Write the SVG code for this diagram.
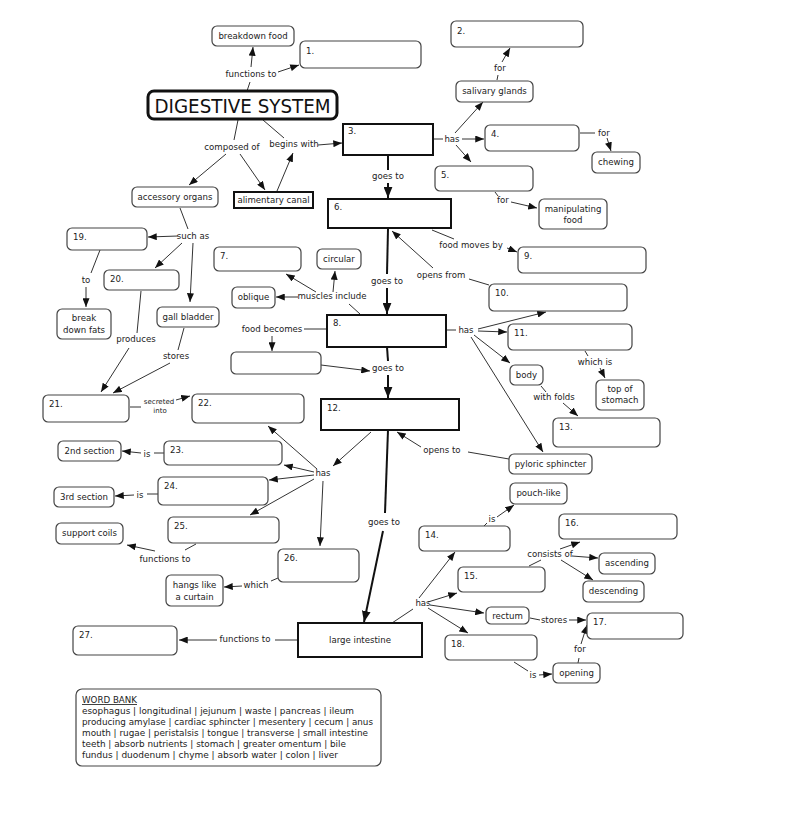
<svg xmlns="http://www.w3.org/2000/svg" width="786" height="831" viewBox="0 0 786 831">
<defs>
<marker id="ah" viewBox="0 0 10 8" refX="10" refY="4" markerWidth="9" markerHeight="7" orient="auto" markerUnits="userSpaceOnUse"><path d="M0,0 L10,4 L0,8 z" fill="#111"/></marker>
<marker id="ah2" viewBox="0 0 10 8" refX="10" refY="4" markerWidth="11" markerHeight="9" orient="auto" markerUnits="userSpaceOnUse"><path d="M0,0 L10,4 L0,8 z" fill="#111"/></marker>
</defs>
<style>
.r{fill:#fff;stroke:#444;stroke-width:1.2}
.s{fill:#fff;stroke:#111;stroke-width:2}
text{font-family:"DejaVu Sans",Verdana,sans-serif;font-size:8.6px;fill:#222}
.c{text-anchor:middle}
.sm{font-size:7px}
#connectors line{stroke:#333;stroke-width:1;fill:none}
#connectors line.k{stroke:#111;stroke-width:2}
#connectors line.a{marker-end:url(#ah)}
#connectors line.k.a{marker-end:url(#ah2)}
</style>
<rect width="786" height="831" fill="#fff"/>

<g id="connectors">
<line x1="247" y1="91" x2="250" y2="82"/>
<line class="a" x1="251" y1="67" x2="253" y2="47"/>
<line class="a" x1="278" y1="72" x2="299" y2="65"/>
<line x1="238" y1="120" x2="234" y2="140"/>
<line class="a" x1="226" y1="154" x2="189" y2="185"/>
<line class="a" x1="240" y1="154" x2="265" y2="190"/>
<line x1="263" y1="120" x2="284" y2="138"/>
<line class="a" x1="318" y1="145" x2="342" y2="143"/>
<line class="a" x1="277" y1="191" x2="293" y2="153"/>
<line x1="433" y1="139" x2="443" y2="139"/>
<line class="a" x1="455" y1="133" x2="483" y2="102"/>
<line class="a" x1="462" y1="139" x2="484" y2="139"/>
<line class="a" x1="456" y1="145" x2="471" y2="162"/>
<line x1="497" y1="80" x2="498" y2="75"/>
<line class="a" x1="502" y1="62" x2="510" y2="48"/>
<line x1="580" y1="133" x2="595" y2="133"/>
<line class="a" x1="607" y1="138" x2="611" y2="151"/>
<line x1="495" y1="192" x2="498" y2="196"/>
<line class="a" x1="511" y1="202" x2="537" y2="208"/>
<line class="k" x1="388" y1="155" x2="388" y2="170"/>
<line class="k a" x1="388" y1="183" x2="388" y2="198"/>
<line x1="432" y1="230" x2="454" y2="239"/>
<line class="a" x1="507" y1="248" x2="517" y2="252"/>
<line x1="489" y1="285" x2="469" y2="279"/>
<line class="a" x1="433" y1="268" x2="392" y2="231"/>
<line class="k" x1="388" y1="229" x2="387" y2="274"/>
<line class="k a" x1="387" y1="288" x2="387" y2="314"/>
<line x1="360" y1="314" x2="349" y2="304"/>
<line class="a" x1="333" y1="292" x2="335" y2="271"/>
<line class="a" x1="316" y1="292" x2="286" y2="274"/>
<line class="a" x1="298" y1="297" x2="276" y2="297"/>
<line x1="304" y1="329" x2="327" y2="329"/>
<line class="a" x1="272" y1="336" x2="272" y2="351"/>
<line class="k" x1="387" y1="347" x2="388" y2="361"/>
<line class="k a" x1="388" y1="375" x2="388" y2="398"/>
<line class="a" x1="321" y1="365" x2="370" y2="371"/>
<line x1="446" y1="330" x2="456" y2="330"/>
<line class="a" x1="478" y1="329" x2="546" y2="312"/>
<line class="a" x1="478" y1="331" x2="507" y2="332"/>
<line class="a" x1="474" y1="335" x2="510" y2="363"/>
<line class="a" x1="471" y1="337" x2="543" y2="452"/>
<line x1="585" y1="351" x2="588" y2="356"/>
<line class="a" x1="600" y1="368" x2="605" y2="378"/>
<line x1="541" y1="386" x2="546" y2="392"/>
<line class="a" x1="563" y1="403" x2="578" y2="416"/>
<line x1="509" y1="459" x2="468" y2="452"/>
<line class="a" x1="421" y1="447" x2="397" y2="432"/>
<line class="a" x1="371" y1="432" x2="333" y2="466"/>
<line class="a" x1="317" y1="469" x2="268" y2="426"/>
<line class="a" x1="314" y1="472" x2="284" y2="465"/>
<line class="a" x1="314" y1="475" x2="269" y2="480"/>
<line class="a" x1="314" y1="479" x2="250" y2="515"/>
<line class="a" x1="323" y1="481" x2="320" y2="546"/>
<line x1="130" y1="407" x2="141" y2="407"/>
<line class="a" x1="176" y1="400" x2="190" y2="396"/>
<line x1="164" y1="453" x2="154" y2="453"/>
<line class="a" x1="141" y1="453" x2="122" y2="451"/>
<line x1="158" y1="494" x2="147" y2="494"/>
<line class="a" x1="134" y1="495" x2="115" y2="496"/>
<line x1="196" y1="544" x2="185" y2="550"/>
<line class="a" x1="155" y1="551" x2="127" y2="545"/>
<line x1="278" y1="578" x2="271" y2="581"/>
<line class="a" x1="242" y1="586" x2="224" y2="587"/>
<line class="k" x1="388" y1="430" x2="385" y2="513"/>
<line class="k a" x1="383" y1="531" x2="364" y2="622"/>
<line x1="298" y1="640" x2="275" y2="640"/>
<line class="a" x1="217" y1="640" x2="179" y2="640"/>
<line x1="392" y1="623" x2="413" y2="609"/>
<line class="a" x1="419" y1="598" x2="455" y2="552"/>
<line class="a" x1="428" y1="602" x2="457" y2="593"/>
<line class="a" x1="430" y1="605" x2="484" y2="613"/>
<line class="a" x1="428" y1="608" x2="468" y2="633"/>
<line x1="484" y1="526" x2="487" y2="523"/>
<line class="a" x1="497" y1="517" x2="514" y2="505"/>
<line x1="529" y1="566" x2="541" y2="560"/>
<line class="a" x1="560" y1="549" x2="580" y2="542"/>
<line class="a" x1="572" y1="556" x2="598" y2="558"/>
<line class="a" x1="561" y1="560" x2="593" y2="580"/>
<line x1="530" y1="618" x2="540" y2="620"/>
<line class="a" x1="569" y1="620" x2="586" y2="620"/>
<line x1="514" y1="662" x2="528" y2="671"/>
<line class="a" x1="539" y1="675" x2="552" y2="674"/>
<line x1="578" y1="663" x2="579" y2="658"/>
<line class="a" x1="581" y1="644" x2="587" y2="625"/>
<line x1="180" y1="208" x2="188" y2="229"/>
<line class="a" x1="178" y1="236" x2="148" y2="237"/>
<line class="a" x1="182" y1="243" x2="155" y2="268"/>
<line class="a" x1="193" y1="243" x2="190" y2="302"/>
<line x1="100" y1="250" x2="91" y2="273"/>
<line class="a" x1="86" y1="287" x2="86" y2="307"/>
<line x1="141" y1="291" x2="137" y2="333"/>
<line class="a" x1="129" y1="348" x2="101" y2="392"/>
<line x1="184" y1="328" x2="178" y2="350"/>
<line class="a" x1="170" y1="363" x2="113" y2="393"/>
<g id="link-labels">
<text class="c" x="251" y="77">functions to</text>
<text class="c" x="232" y="150">composed of</text>
<text class="c" x="294" y="147">begins with</text>
<text class="c" x="452" y="142">has</text>
<text class="c" x="500" y="71">for</text>
<text class="c" x="604" y="136">for</text>
<text class="c" x="503" y="203">for</text>
<text class="c" x="388" y="179">goes to</text>
<text class="c" x="471" y="248">food moves by</text>
<text class="c" x="441" y="278">opens from</text>
<text class="c" x="387" y="284">goes to</text>
<text class="c" x="332" y="299">muscles include</text>
<text class="c" x="272" y="332">food becomes</text>
<text class="c" x="388" y="371">goes to</text>
<text class="c" x="466" y="333">has</text>
<text class="c" x="595" y="365">which is</text>
<text class="c" x="554" y="400">with folds</text>
<text class="c" x="442" y="453">opens to</text>
<text class="c" x="323" y="476">has</text>
<text class="c sm" x="159" y="404">secreted</text>
<text class="c sm" x="160" y="413">into</text>
<text class="c" x="147" y="457">is</text>
<text class="c" x="140" y="498">is</text>
<text class="c" x="165" y="562">functions to</text>
<text class="c" x="256" y="588">which</text>
<text class="c" x="384" y="525">goes to</text>
<text class="c" x="245" y="642">functions to</text>
<text class="c" x="423" y="606">has</text>
<text class="c" x="492" y="522">is</text>
<text class="c" x="550" y="557">consists of</text>
<text class="c" x="554" y="623">stores</text>
<text class="c" x="533" y="678">is</text>
<text class="c" x="580" y="652">for</text>
<text class="c" x="193" y="239">such as</text>
<text class="c" x="86" y="283">to</text>
<text class="c" x="136" y="342">produces</text>
<text class="c" x="176" y="359">stores</text>
</g>
</g>

<g id="n-breakdown"><rect class="r" x="212" y="26" width="82" height="20" rx="5"/><text class="c" x="253" y="39">breakdown food</text></g>
<g id="n1"><rect class="r" x="300" y="41" width="121" height="27" rx="5"/><text x="306" y="54">1.</text></g>
<g id="n-ds"><rect x="148" y="91" width="189" height="28" rx="6" fill="#fff" stroke="#111" stroke-width="3"/><text class="c" x="242.5" y="113" style="font-size:20px;fill:#111" textLength="176" lengthAdjust="spacingAndGlyphs">DIGESTIVE SYSTEM</text></g>
<g id="n-acc"><rect class="r" x="132" y="187" width="86" height="20" rx="5"/><text class="c" x="175" y="200">accessory organs</text></g>
<g id="n-ali"><rect class="s" x="234" y="192" width="79" height="16"/><text class="c" x="273.5" y="203">alimentary canal</text></g>
<g id="n3"><rect class="s" x="343" y="124" width="90" height="31"/><text x="348" y="134">3.</text></g>
<g id="n-sal"><rect class="r" x="456" y="81" width="77" height="21" rx="5"/><text class="c" x="494.5" y="94">salivary glands</text></g>
<g id="n2"><rect class="r" x="451" y="21" width="132" height="26" rx="5"/><text x="457" y="34">2.</text></g>
<g id="n4"><rect class="r" x="485" y="125" width="94" height="26" rx="5"/><text x="491" y="137">4.</text></g>
<g id="n-chew"><rect class="r" x="592" y="152" width="48" height="21" rx="5"/><text class="c" x="616" y="165">chewing</text></g>
<g id="n5"><rect class="r" x="435" y="166" width="98" height="25" rx="5"/><text x="441" y="178">5.</text></g>
<g id="n-manip"><rect class="r" x="539" y="199" width="68" height="30" rx="5"/><text class="c" x="573" y="212">manipulating</text><text class="c" x="573" y="223">food</text></g>
<g id="n6"><rect class="s" x="328" y="199" width="123" height="29"/><text x="334" y="210">6.</text></g>
<g id="n9"><rect class="r" x="518" y="247" width="128" height="26" rx="5"/><text x="524" y="259">9.</text></g>
<g id="n10"><rect class="r" x="489" y="284" width="138" height="27" rx="5"/><text x="495" y="296">10.</text></g>
<g id="n-circ"><rect class="r" x="317" y="249" width="44" height="20" rx="5"/><text class="c" x="339" y="262">circular</text></g>
<g id="n7"><rect class="r" x="214" y="247" width="87" height="24" rx="5"/><text x="220" y="259">7.</text></g>
<g id="n-obl"><rect class="r" x="232" y="287" width="43" height="21" rx="5"/><text class="c" x="253.5" y="300">oblique</text></g>
<g id="n8"><rect class="s" x="327" y="315" width="119" height="32"/><text x="333" y="326">8.</text></g>
<g id="n-blank"><rect class="r" x="231" y="352" width="90" height="22" rx="5"/></g>
<g id="n12"><rect class="s" x="321" y="399" width="138" height="31"/><text x="327" y="411">12.</text></g>
<g id="n11"><rect class="r" x="508" y="324" width="124" height="26" rx="5"/><text x="514" y="336">11.</text></g>
<g id="n-top"><rect class="r" x="596" y="380" width="48" height="30" rx="5"/><text class="c" x="620" y="392">top of</text><text class="c" x="620" y="403">stomach</text></g>
<g id="n-body"><rect class="r" x="510" y="365" width="33" height="20" rx="5"/><text class="c" x="526.5" y="378">body</text></g>
<g id="n13"><rect class="r" x="553" y="418" width="107" height="29" rx="5"/><text x="559" y="430">13.</text></g>
<g id="n-pyl"><rect class="r" x="509" y="454" width="83" height="20" rx="5"/><text class="c" x="550.5" y="467">pyloric sphincter</text></g>
<g id="n21"><rect class="r" x="43" y="395" width="86" height="27" rx="5"/><text x="49" y="407">21.</text></g>
<g id="n22"><rect class="r" x="192" y="394" width="112" height="29" rx="5"/><text x="198" y="406">22.</text></g>
<g id="n23"><rect class="r" x="164" y="441" width="118" height="24" rx="5"/><text x="170" y="453">23.</text></g>
<g id="n-2nd"><rect class="r" x="58" y="441" width="63" height="20" rx="5"/><text class="c" x="89.5" y="454">2nd section</text></g>
<g id="n24"><rect class="r" x="158" y="477" width="110" height="28" rx="5"/><text x="164" y="489">24.</text></g>
<g id="n-3rd"><rect class="r" x="54" y="487" width="60" height="20" rx="5"/><text class="c" x="84" y="500">3rd section</text></g>
<g id="n25"><rect class="r" x="168" y="517" width="111" height="26" rx="5"/><text x="174" y="529">25.</text></g>
<g id="n-sup"><rect class="r" x="56" y="523" width="67" height="21" rx="5"/><text class="c" x="89.5" y="536">support coils</text></g>
<g id="n26"><rect class="r" x="278" y="549" width="81" height="33" rx="5"/><text x="284" y="561">26.</text></g>
<g id="n-hang"><rect class="r" x="166" y="575" width="57" height="31" rx="5"/><text class="c" x="194.5" y="588">hangs like</text><text class="c" x="194.5" y="600">a curtain</text></g>
<g id="n-li"><rect class="s" x="298" y="623" width="124" height="34"/><text class="c" x="360" y="643">large intestine</text></g>
<g id="n27"><rect class="r" x="73" y="626" width="104" height="29" rx="5"/><text x="79" y="638">27.</text></g>
<g id="n14"><rect class="r" x="419" y="526" width="91" height="25" rx="5"/><text x="425" y="538">14.</text></g>
<g id="n-pouch"><rect class="r" x="510" y="483" width="57" height="21" rx="5"/><text class="c" x="538.5" y="496">pouch-like</text></g>
<g id="n15"><rect class="r" x="458" y="567" width="87" height="25" rx="5"/><text x="464" y="579">15.</text></g>
<g id="n16"><rect class="r" x="559" y="514" width="118" height="25" rx="5"/><text x="565" y="526">16.</text></g>
<g id="n-asc"><rect class="r" x="599" y="553" width="56" height="21" rx="5"/><text class="c" x="627" y="566">ascending</text></g>
<g id="n-desc"><rect class="r" x="583" y="581" width="61" height="21" rx="5"/><text class="c" x="613.5" y="594">descending</text></g>
<g id="n-rectum"><rect class="r" x="486" y="607" width="43" height="17" rx="5"/><text class="c" x="507.5" y="619">rectum</text></g>
<g id="n17"><rect class="r" x="587" y="613" width="96" height="26" rx="5"/><text x="593" y="625">17.</text></g>
<g id="n18"><rect class="r" x="445" y="635" width="92" height="25" rx="5"/><text x="451" y="647">18.</text></g>
<g id="n-open"><rect class="r" x="553" y="663" width="47" height="20" rx="5"/><text class="c" x="576.5" y="676">opening</text></g>
<g id="n19"><rect class="r" x="67" y="228" width="80" height="22" rx="5"/><text x="73" y="240">19.</text></g>
<g id="n-fats"><rect class="r" x="57" y="309" width="54" height="30" rx="5"/><text class="c" x="84" y="321">break</text><text class="c" x="84" y="333">down fats</text></g>
<g id="n20"><rect class="r" x="104" y="270" width="75" height="20" rx="5"/><text x="110" y="282">20.</text></g>
<g id="n-gall"><rect class="r" x="157" y="307" width="62" height="20" rx="5"/><text class="c" x="188" y="320">gall bladder</text></g>

<g id="wordbank">
<rect class="r" x="76" y="689" width="305" height="77" rx="6"/>
<text x="82" y="703" text-decoration="underline" textLength="55" lengthAdjust="spacingAndGlyphs">WORD BANK</text>
<text x="82" y="714" textLength="272" lengthAdjust="spacingAndGlyphs">esophagus | longitudinal | jejunum | waste | pancreas | ileum</text>
<text x="82" y="725" textLength="291" lengthAdjust="spacingAndGlyphs">producing amylase | cardiac sphincter | mesentery | cecum | anus</text>
<text x="82" y="736" textLength="286" lengthAdjust="spacingAndGlyphs">mouth | rugae | peristalsis | tongue | transverse | small intestine</text>
<text x="82" y="747" textLength="264" lengthAdjust="spacingAndGlyphs">teeth | absorb nutrients | stomach | greater omentum | bile</text>
<text x="82" y="758" textLength="256" lengthAdjust="spacingAndGlyphs">fundus | duodenum | chyme | absorb water |  colon | liver</text>
</g>
</svg>
